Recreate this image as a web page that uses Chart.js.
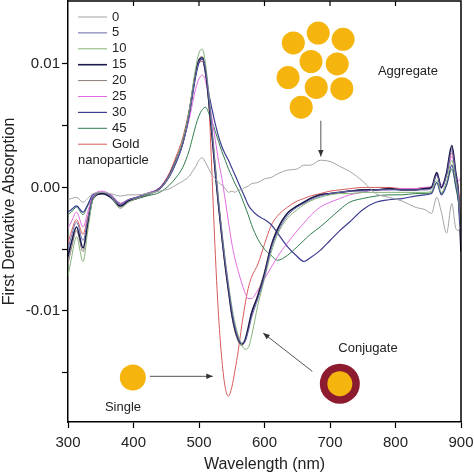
<!DOCTYPE html>
<html>
<head>
<meta charset="utf-8">
<script src="https://cdn.jsdelivr.net/npm/chart.js@4.4.1/dist/chart.umd.min.js"></script>
<style>
html, body { margin: 0; padding: 0; background: #fff; }
#wrap { width: 474px; height: 474px; }
</style>
</head>
<body>
<div id="wrap"><canvas id="c" width="474" height="474"></canvas></div>
<script>
// wavelength grid (nm)
const wavelength = [300,305,313,323,330,338,353,365,380,392,
  405,420,440,455,465,475,485,490,495,500,
  505,510,515,520,525,530,535,540,545,550,
  555,560,565,570,575,580,590,600,610,620,
  635,650,660,670,685,700,715,730,750,770,
  790,810,830,845,855,863,870,878,886,892,
  896,900];

const s0 = [-0.0010,-0.0009,-0.0008,-0.0012,-0.0009,-0.0005,-0.0004,-0.0005,-0.0007,-0.0006,
  -0.0006,-0.0005,-0.0003,-0.0001,0.0002,0.0005,0.0009,0.0013,0.0017,0.0022,
  0.0024,0.0020,0.0015,0.0010,0.0007,0.0004,0.0002,-0.0001,-0.0004,-0.0003,
  -0.0004,-0.0002,-0.0002,0.0000,0.0001,0.0003,0.0004,0.0007,0.0008,0.0011,
  0.0014,0.0015,0.0018,0.0018,0.0022,0.0021,0.0017,0.0013,0.0005,-0.0005,
  -0.0008,-0.0011,-0.0016,-0.0018,-0.0021,-0.0008,-0.0020,-0.0037,-0.0013,-0.0033,
  -0.0035,-0.0027];
const s5 = [-0.0050,-0.0040,-0.0028,-0.0043,-0.0026,-0.0008,-0.0004,-0.0007,-0.0014,-0.0010,
  -0.0008,-0.0005,-0.0001,0.0009,0.0021,0.0035,0.0058,0.0075,0.0091,0.0102,
  0.0104,0.0096,0.0073,0.0046,0.0016,-0.0012,-0.0037,-0.0060,-0.0080,-0.0099,
  -0.0113,-0.0122,-0.0126,-0.0125,-0.0117,-0.0106,-0.0090,-0.0072,-0.0050,-0.0036,
  -0.0023,-0.0016,-0.0013,-0.0010,-0.0007,-0.0005,-0.0004,-0.0003,-0.0003,-0.0002,
  -0.0002,-0.0002,-0.0002,-0.0002,-0.0001,0.0010,-0.0001,0.0010,0.0030,0.0010,
  -0.0006,-0.0045];
const s10 = [-0.0072,-0.0058,-0.0040,-0.0060,-0.0036,-0.0010,-0.0004,-0.0007,-0.0017,-0.0012,
  -0.0009,-0.0006,-0.0001,0.0010,0.0022,0.0038,0.0062,0.0080,0.0097,0.0109,
  0.0112,0.0100,0.0076,0.0048,0.0018,-0.0010,-0.0035,-0.0058,-0.0078,-0.0096,
  -0.0110,-0.0120,-0.0127,-0.0131,-0.0130,-0.0121,-0.0095,-0.0074,-0.0053,-0.0038,
  -0.0025,-0.0018,-0.0014,-0.0011,-0.0008,-0.0006,-0.0005,-0.0005,-0.0004,-0.0004,
  -0.0004,-0.0004,-0.0004,-0.0004,-0.0003,0.0006,-0.0004,0.0005,0.0022,0.0005,
  -0.0008,-0.0035];
const s15 = [-0.0056,-0.0045,-0.0032,-0.0049,-0.0030,-0.0009,-0.0005,-0.0008,-0.0015,-0.0011,
  -0.0009,-0.0006,-0.0001,0.0010,0.0022,0.0036,0.0060,0.0077,0.0093,0.0103,
  0.0105,0.0095,0.0070,0.0042,0.0012,-0.0015,-0.0040,-0.0063,-0.0083,-0.0102,
  -0.0115,-0.0123,-0.0127,-0.0124,-0.0114,-0.0102,-0.0088,-0.0070,-0.0048,-0.0034,
  -0.0021,-0.0015,-0.0012,-0.0009,-0.0006,-0.0005,-0.0004,-0.0003,-0.0002,-0.0002,
  -0.0001,-0.0002,-0.0002,-0.0001,0.0000,0.0012,0.0000,0.0012,0.0034,0.0012,
  -0.0005,-0.0052];
const s20 = [-0.0062,-0.0050,-0.0035,-0.0052,-0.0032,-0.0010,-0.0005,-0.0008,-0.0016,-0.0012,
  -0.0009,-0.0006,-0.0001,0.0010,0.0022,0.0037,0.0061,0.0078,0.0094,0.0104,
  0.0106,0.0094,0.0068,0.0040,0.0010,-0.0017,-0.0042,-0.0065,-0.0085,-0.0104,
  -0.0117,-0.0125,-0.0128,-0.0125,-0.0116,-0.0104,-0.0086,-0.0068,-0.0047,-0.0033,
  -0.0021,-0.0015,-0.0012,-0.0009,-0.0006,-0.0005,-0.0004,-0.0003,-0.0002,-0.0002,
  -0.0001,-0.0002,-0.0002,-0.0001,0.0000,0.0011,0.0000,0.0011,0.0032,0.0011,
  -0.0005,-0.0048];
const s25 = [-0.0033,-0.0028,-0.0020,-0.0032,-0.0020,-0.0007,-0.0003,-0.0006,-0.0013,-0.0010,
  -0.0008,-0.0005,0.0000,0.0011,0.0022,0.0036,0.0055,0.0068,0.0080,0.0088,
  0.0091,0.0086,0.0072,0.0055,0.0038,0.0021,0.0007,-0.0010,-0.0028,-0.0045,
  -0.0058,-0.0068,-0.0077,-0.0085,-0.0090,-0.0090,-0.0083,-0.0074,-0.0065,-0.0056,
  -0.0045,-0.0035,-0.0029,-0.0023,-0.0016,-0.0012,-0.0009,-0.0006,-0.0004,-0.0002,
  -0.0002,-0.0001,-0.0001,0.0000,0.0001,0.0010,0.0002,0.0010,0.0025,0.0012,
  0.0005,0.0008];
const s30 = [-0.0020,-0.0018,-0.0015,-0.0020,-0.0014,-0.0006,-0.0004,-0.0006,-0.0013,-0.0010,
  -0.0008,-0.0005,-0.0001,0.0009,0.0020,0.0035,0.0058,0.0074,0.0090,0.0101,
  0.0104,0.0092,0.0076,0.0063,0.0051,0.0041,0.0033,0.0027,0.0022,0.0016,
  0.0010,0.0004,-0.0002,-0.0008,-0.0014,-0.0018,-0.0023,-0.0026,-0.0030,-0.0037,
  -0.0048,-0.0056,-0.0060,-0.0057,-0.0051,-0.0043,-0.0035,-0.0028,-0.0018,-0.0012,
  -0.0010,-0.0009,-0.0007,-0.0006,-0.0005,0.0004,-0.0006,0.0002,0.0018,0.0002,
  -0.0010,-0.0040];
const s45 = [-0.0022,-0.0020,-0.0016,-0.0022,-0.0015,-0.0007,-0.0005,-0.0007,-0.0014,-0.0011,
  -0.0009,-0.0007,-0.0004,0.0002,0.0008,0.0016,0.0030,0.0040,0.0050,0.0058,
  0.0063,0.0065,0.0060,0.0053,0.0045,0.0037,0.0029,0.0022,0.0015,0.0009,
  0.0003,-0.0002,-0.0008,-0.0015,-0.0022,-0.0030,-0.0042,-0.0050,-0.0055,-0.0059,
  -0.0055,-0.0048,-0.0043,-0.0038,-0.0032,-0.0025,-0.0018,-0.0012,-0.0009,-0.0007,
  -0.0006,-0.0006,-0.0005,-0.0005,-0.0004,0.0004,-0.0005,0.0002,0.0015,0.0000,
  -0.0012,-0.0030];
const sGold = [-0.0045,-0.0036,-0.0026,-0.0038,-0.0024,-0.0008,-0.0004,-0.0007,-0.0014,-0.0010,
  -0.0008,-0.0005,0.0000,0.0012,0.0025,0.0040,0.0063,0.0078,0.0092,0.0101,
  0.0102,0.0092,0.0068,0.0008,-0.0055,-0.0105,-0.0140,-0.0162,-0.0169,-0.0162,
  -0.0148,-0.0132,-0.0113,-0.0096,-0.0082,-0.0073,-0.0062,-0.0046,-0.0031,-0.0023,
  -0.0016,-0.0011,-0.0009,-0.0007,-0.0005,-0.0003,-0.0002,-0.0001,0.0000,0.0000,
  0.0000,-0.0001,-0.0001,0.0000,0.0000,0.0010,0.0000,0.0010,0.0028,0.0010,
  0.0000,-0.0030];

const seriesLabels = ['0', '5', '10', '15', '20', '25', '30', '45', 'Gold nanoparticle'];
const seriesValues = [s0, s5, s10, s15, s20, s25, s30, s45, sGold];
const seriesColors = ['#a3a3a3', '#6767aa', '#86b27a', '#1b1b4d', '#8c7a74', '#e06ce0', '#3c3c92', '#2f7d4c', '#d85a5a'];
const seriesWidths = [1, 1, 1, 1.6, 1, 1, 1.2, 1, 1];

const xTicks = [300, 400, 500, 600, 700, 800, 900];
const yTicks = [-0.015, -0.01, -0.005, 0, 0.005, 0.01];

// annotation anchors in (nm, value)
const aggregateDots = [[644, 0.0117], [682, 0.0125], [720, 0.0120], [671, 0.0102], [711, 0.0100],
  [636, 0.0089], [679, 0.0081], [718, 0.0080], [656, 0.0065]];
const notes = [
  { text: 'Aggregate', at: [819, 0.0094] },
  { text: 'Conjugate', at: [758, -0.0130] },
  { text: 'Single', at: [384, -0.0178] }
];
const arrows = [
  [[686, 0.0054], [686, 0.0025]],
  [[425, -0.0153], [521, -0.0153]],
  [[673, -0.0149], [598, -0.0118]]
];
const singleDot = [399, -0.0154];
const conjugateDot = [715, -0.0159];

const GOLD = '#f5b50e';
const FONT = "'Liberation Sans', Arial, sans-serif";
Chart.defaults.font.family = FONT;

function drawArrow(ctx, x1, y1, x2, y2) {
  const ang = Math.atan2(y2 - y1, x2 - x1);
  ctx.beginPath();
  ctx.moveTo(x1, y1);
  ctx.lineTo(x2, y2);
  ctx.stroke();
  ctx.beginPath();
  ctx.moveTo(x2, y2);
  ctx.lineTo(x2 - 7 * Math.cos(ang - 0.4), y2 - 7 * Math.sin(ang - 0.4));
  ctx.lineTo(x2 - 7 * Math.cos(ang + 0.4), y2 - 7 * Math.sin(ang + 0.4));
  ctx.closePath();
  ctx.fill();
}

function dot(ctx, px, py, r, color) {
  ctx.beginPath();
  ctx.arc(px, py, r, 0, Math.PI * 2);
  ctx.fillStyle = color;
  ctx.fill();
}

// frame, inner top ticks, legend and the particle sketches
const decorPlugin = {
  id: 'decor',
  afterDraw(chart) {
    const { ctx, chartArea: a, scales: { x, y } } = chart;
    ctx.save();
    ctx.strokeStyle = '#000';
    ctx.lineWidth = 1.5;
    ctx.beginPath();
    ctx.moveTo(a.left, a.top);
    ctx.lineTo(a.right, a.top);
    ctx.lineTo(a.right, a.bottom);
    ctx.stroke();
    ctx.lineWidth = 1.2;
    xTicks.slice(1, -1).forEach(v => {
      const px = x.getPixelForValue(v);
      ctx.beginPath();
      ctx.moveTo(px, a.top);
      ctx.lineTo(px, a.top + 5);
      ctx.stroke();
    });

    // legend
    ctx.font = '13px ' + FONT;
    ctx.textBaseline = 'middle';
    ctx.fillStyle = '#222';
    const lx = a.left + 10;
    let ly = a.top + 16;
    chart.data.datasets.forEach(ds => {
      ctx.strokeStyle = ds.borderColor;
      ctx.lineWidth = ds.borderWidth;
      ctx.beginPath();
      ctx.moveTo(lx, ly);
      ctx.lineTo(lx + 29, ly);
      ctx.stroke();
      const words = ds.label.split(' ');
      ctx.fillStyle = '#222';
      ctx.fillText(words[0], lx + 34, ly);
      if (words.length > 1) {
        ly += 16;
        ctx.fillText(words.slice(1).join(' '), lx, ly);
      }
      ly += 15.9;
    });

    // particles
    aggregateDots.forEach(([nm, v]) => dot(ctx, x.getPixelForValue(nm), y.getPixelForValue(v), 11.5, GOLD));
    dot(ctx, x.getPixelForValue(singleDot[0]), y.getPixelForValue(singleDot[1]), 13, GOLD);
    dot(ctx, x.getPixelForValue(conjugateDot[0]), y.getPixelForValue(conjugateDot[1]), 20, '#8c1b30');
    dot(ctx, x.getPixelForValue(conjugateDot[0]), y.getPixelForValue(conjugateDot[1]), 12.5, GOLD);

    ctx.strokeStyle = '#555';
    ctx.fillStyle = '#333';
    ctx.lineWidth = 1;
    arrows.forEach(([p, q]) => drawArrow(ctx,
      x.getPixelForValue(p[0]), y.getPixelForValue(p[1]),
      x.getPixelForValue(q[0]), y.getPixelForValue(q[1])));

    ctx.fillStyle = '#222';
    ctx.textAlign = 'center';
    notes.forEach(n => ctx.fillText(n.text, x.getPixelForValue(n.at[0]), y.getPixelForValue(n.at[1])));
    ctx.restore();
  }
};

const datasets = seriesLabels.map((label, i) => ({
  label,
  data: wavelength.map((w, j) => ({ x: w, y: seriesValues[i][j] })),
  borderColor: seriesColors[i],
  borderWidth: seriesWidths[i],
  pointRadius: 0,
  fill: false,
  cubicInterpolationMode: 'monotone'
}));

new Chart(document.getElementById('c'), {
  type: 'line',
  data: { datasets },
  options: {
    responsive: false,
    animation: false,
    layout: { padding: { top: 1, right: 13, left: 0, bottom: 0 } },
    plugins: { legend: { display: false }, tooltip: { enabled: false } },
    scales: {
      x: {
        type: 'linear',
        min: 300,
        max: 900,
        afterBuildTicks: s => { s.ticks = xTicks.map(v => ({ value: v })); },
        ticks: { font: { size: 15 }, color: '#222', padding: 6, maxRotation: 0, autoSkip: false },
        grid: { drawOnChartArea: false, tickLength: 6, color: '#000', tickWidth: 1.2 },
        border: { color: '#000', width: 1.5 },
        title: { display: true, text: 'Wavelength (nm)', font: { size: 16 }, color: '#222', padding: 0 },
        afterFit: s => { s.height = 52; s.paddingLeft = 0; s.paddingRight = 0; }
      },
      y: {
        min: -0.019,
        max: 0.0151,
        afterBuildTicks: s => { s.ticks = yTicks.map(v => ({ value: v })); },
        ticks: {
          font: { size: 15 },
          color: '#222',
          padding: 2,
          callback: v => (Math.round(v * 1000) % 10 === 0 ? v.toFixed(2) : '')
        },
        grid: { drawOnChartArea: false, tickLength: 6, color: '#000', tickWidth: 1.2 },
        border: { color: '#000', width: 1.5 },
        title: { display: true, text: 'First Derivative Absorption', font: { size: 16 }, color: '#222', padding: 0 },
        afterFit: s => { s.width = 68; s.paddingTop = 0; s.paddingBottom = 0; }
      }
    }
  },
  plugins: [decorPlugin]
});
</script>
</body>
</html>
